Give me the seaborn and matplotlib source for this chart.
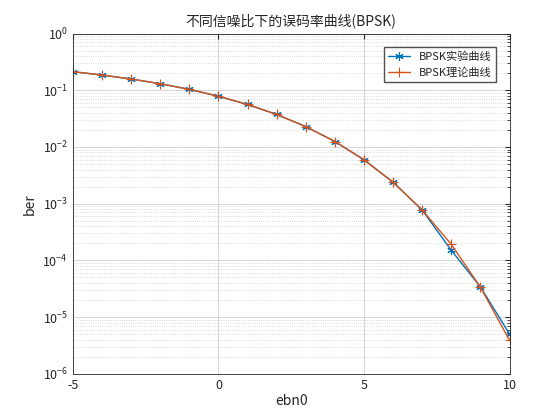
import matplotlib
matplotlib.use("Agg")
import matplotlib.pyplot as plt
import seaborn as sns
import pandas as pd

ebn0 = [-5, -4, -3, -2, -1, 0, 1, 2, 3, 4, 5, 6, 7, 8, 9, 10]
ber_exp = [0.213, 0.186, 0.158, 0.131, 0.104, 0.0786, 0.0563, 0.0375, 0.0229, 0.0125,
           0.00595, 0.00239, 0.00077, 0.00015, 3.4e-5, 5.0e-6]
ber_theory = [0.2132, 0.1861, 0.1584, 0.1306, 0.1038, 0.0786, 0.0563, 0.0375, 0.0229, 0.0125,
              0.00595, 0.00239, 0.000773, 0.000191, 3.36e-5, 3.87e-6]

sns.set_style("white")
plt.rcParams['font.family'] = ['Noto Sans CJK SC', 'DejaVu Sans']
plt.rcParams['axes.unicode_minus'] = False

fig = plt.figure(figsize=(5.6, 4.2), dpi=100)
ax = fig.add_axes([0.13, 0.11, 0.78, 0.81])
df = pd.DataFrame({"ebn0": ebn0, "exp": ber_exp, "th": ber_theory})
sns.lineplot(data=df, x="ebn0", y="exp", ax=ax, color="#0072BD", marker=(6, 2, 0), markersize=6,
             markeredgecolor="#0072BD", markeredgewidth=0.8, linewidth=1, label="BPSK实验曲线")
sns.lineplot(data=df, x="ebn0", y="th", ax=ax, color="#D95319", marker="+", markersize=7,
             markeredgecolor="#D95319", markeredgewidth=0.8, linewidth=1, label="BPSK理论曲线")
ax.set_yscale("log")
ax.set_xlim(-5, 10)
ax.set_ylim(1e-6, 1)
ax.set_xticks([-5, 0, 5, 10])
ax.grid(True, which="major", color="#d0d0d0", linewidth=0.6)
ax.grid(True, which="minor", axis="y", color="#d0d0d0", linestyle=":", linewidth=0.6)
ax.tick_params(which="both", direction="in", labelsize=9, top=True, right=True)
ax.tick_params(which="minor", length=2)
for s in ax.spines.values():
    s.set_color("#262626"); s.set_linewidth(0.6)
ax.set_xlabel("ebn0", fontsize=10, labelpad=2)
ax.set_ylabel("ber", fontsize=10)
ax.set_title("不同信噪比下的误码率曲线(BPSK)", fontsize=10)
leg = ax.legend(loc="upper right", fontsize=8, frameon=True, fancybox=False, borderaxespad=1.2,
                handlelength=2)
leg.get_frame().set_edgecolor("#262626")
fig.savefig("out.png", dpi=100)
